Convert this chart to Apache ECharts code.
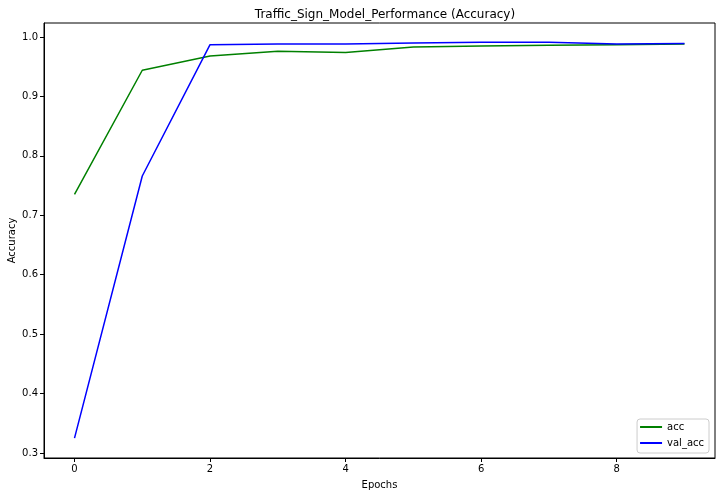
<!DOCTYPE html>
<html><head><meta charset="utf-8">
<script src="https://cdn.jsdelivr.net/npm/echarts@6/dist/echarts.min.js"></script>
<style>html,body{margin:0;padding:0;background:#fff}#c{width:720px;height:496px}</style>
</head><body><div id="c"></div>
<script>
const epochs = [0,1,2,3,4,5,6,7,8,9];
const acc = [0.735,0.944,0.968,0.976,0.974,0.983,0.985,0.986,0.987,0.988];
const valAcc = [0.325,0.766,0.987,0.988,0.988,0.990,0.991,0.991,0.988,0.989];
const xTicks = [0,2,4,6,8];
const yTicks = [0.3,0.4,0.5,0.6,0.7,0.8,0.9,1.0];
const FONT = 'DejaVu Sans';
const chart = echarts.init(document.getElementById('c'), null, {renderer:'canvas'});
const axisCommon = {
  axisLine:{show:true,onZero:false,lineStyle:{color:'#000',width:1}},
  splitLine:{show:false}
};
chart.setOption({
  animation:false,
  title:{text:'Traffic_Sign_Model_Performance (Accuracy)',left:380,top:4,textAlign:'center',
    textStyle:{fontFamily:FONT,fontSize:12,fontWeight:'normal',color:'#000'}},
  grid:{left:44,right:5,top:23,bottom:38,outerBoundsMode:'none',containLabel:false,show:true,borderColor:'#000',borderWidth:1,backgroundColor:'#fff'},
  legend:{orient:'vertical',right:11,bottom:43,backgroundColor:'#fff',borderColor:'#ccc',borderWidth:1,borderRadius:3,
    padding:[2,5,4,3],itemGap:4,itemWidth:22,itemHeight:2,icon:'rect',
    textStyle:{fontFamily:FONT,fontSize:10,lineHeight:12,color:'#000'},
    data:['acc','val_acc']},
  xAxis:Object.assign({}, axisCommon, {type:'value',min:-0.45,max:9.45,
    name:'Epochs',nameLocation:'middle',nameGap:22,nameMoveOverlap:false,nameTextStyle:{fontFamily:FONT,fontSize:10,color:'#000'},
    axisTick:{show:true,length:4,lineStyle:{color:'#000'},customValues:xTicks},
    axisLabel:{color:'#000',fontFamily:FONT,fontSize:10,margin:6,customValues:xTicks}}),
  yAxis:Object.assign({}, axisCommon, {type:'value',min:0.2915,max:1.0235,
    name:'Accuracy',nameLocation:'middle',nameGap:27,nameMoveOverlap:false,nameTextStyle:{fontFamily:FONT,fontSize:10,color:'#000'},
    axisTick:{show:true,length:4,lineStyle:{color:'#000'},customValues:yTicks},
    axisLabel:{color:'#000',fontFamily:FONT,fontSize:10,margin:6,customValues:yTicks,formatter:v=>v.toFixed(1)}}),
  series:[
    {name:'acc',type:'line',data:epochs.map((e,i)=>[e,acc[i]]),symbol:'none',lineStyle:{color:'#008000',width:1.5},itemStyle:{color:'#008000'}},
    {name:'val_acc',type:'line',data:epochs.map((e,i)=>[e,valAcc[i]]),symbol:'none',lineStyle:{color:'#0000ff',width:1.5},itemStyle:{color:'#0000ff'}}
  ]
});
</script></body></html>
